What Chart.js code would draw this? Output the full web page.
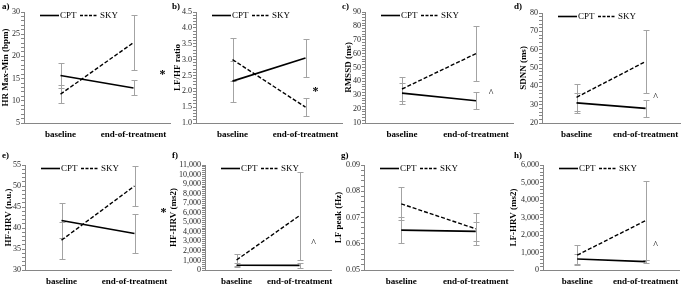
<!DOCTYPE html>
<html>
<head>
<meta charset="utf-8">
<script src="https://cdn.jsdelivr.net/npm/chart.js@4"></script>
<style>
  html, body { margin: 0; padding: 0; background: #fff; }
  #wrap { position: relative; width: 685px; height: 290px; overflow: hidden; }
  #wrap canvas { position: absolute; }
  .tag { position: absolute; font: bold 9px "Liberation Serif", serif; color: #000; }
</style>
</head>
<body>
<div id="wrap"></div>
<script>
const categories = ['baseline', 'end-of-treatment'];

// a) HR Max-Min (bpm)
const hrCPT = [15.7, 12.9];
const hrCPTErr = [2.9, 1.7];
const hrSKY = [11.5, 23.1];
const hrSKYErr = [2.0, 6.2];

// b) LF/HF ratio
const lfhfCPT = [2.32, 3.05];
const lfhfCPTErr = [0.65, 0.6];
const lfhfSKY = [3.0, 1.5];
const lfhfSKYErr = [0.67, 0.28];

// c) RMSSD (ms)
const rmssdCPT = [31.5, 26];
const rmssdCPTErr = [7.5, 6];
const rmssdSKY = [34.5, 60];
const rmssdSKYErr = [9, 20];

// d) SDNN (ms)
const sdnnCPT = [31, 28];
const sdnnCPTErr = [5.5, 4.7];
const sdnnSKY = [34, 53.5];
const sdnnSKYErr = [7.5, 17];

// e) HF-HRV (n.u.)
const hfnuCPT = [41.8, 38.7];
const hfnuCPTErr = [4.2, 4.6];
const hfnuSKY = [37.1, 50];
const hfnuSKYErr = [4.4, 4.7];

// f) HF-HRV (ms2)
const hfmsCPT = [500, 480];
const hfmsCPTErr = [200, 300];
const hfmsSKY = [1050, 5700];
const hfmsSKYErr = [600, 4600];

// g) LF peak (Hz)
const lfpCPT = [0.0652, 0.0647];
const lfpCPTErr = [0.0049, 0.0036];
const lfpSKY = [0.0752, 0.0657];
const lfpSKYErr = [0.0063, 0.006];

// h) LF-HRV (ms2)
const lfmsCPT = [630, 480];
const lfmsCPTErr = [280, 100];
const lfmsSKY = [850, 2820];
const lfmsSKYErr = [570, 2250];

const seriesNames = ['CPT', 'SKY'];

const serif = '"Liberation Serif", "Times New Roman", serif';
const axisGray = '#868686';
const barGray = '#a3a3a3';

const thousands = v => Math.round(v).toLocaleString('en-US');

// left/top = canvas corner; area = plot [left, top, right, bottom] in page pixels; tagAt = label corner
const panels = [
    { tag: 'a)', title: 'HR Max-Min (bpm)', cpt: hrCPT, cptErr: hrCPTErr, sky: hrSKY, skyErr: hrSKYErr,
      min: 5, max: 30, major: 5, minor: 1, fmt: v => String(v),
      mark: '*', markY: 16.3, markDx: 29, left: 0, top: 0, area: [24, 12, 170, 123], tagAt: [2, 1] },
    { tag: 'b)', title: 'LF/HF ratio', cpt: lfhfCPT, cptErr: lfhfCPTErr, sky: lfhfSKY, skyErr: lfhfSKYErr,
      min: 1, max: 4.5, major: 0.5, minor: 0.1, fmt: v => v.toFixed(1),
      mark: '*', markY: 2.04, markDx: 10, left: 172, top: 0, area: [196, 12, 342, 123], tagAt: [172, 1] },
    { tag: 'c)', title: 'RMSSD (ms)', cpt: rmssdCPT, cptErr: rmssdCPTErr, sky: rmssdSKY, skyErr: rmssdSKYErr,
      min: 10, max: 90, major: 10, minor: 2, fmt: v => String(v),
      mark: '^', markY: 33, markDx: 15, left: 343, top: 0, area: [365, 12, 513, 123], tagAt: [342, 1] },
    { tag: 'd)', title: 'SDNN (ms)', cpt: sdnnCPT, cptErr: sdnnCPTErr, sky: sdnnSKY, skyErr: sdnnSKYErr,
      min: 20, max: 80, major: 10, minor: 2, fmt: v => String(v),
      mark: '^', markY: 35, markDx: 10, left: 518, top: 0, area: [542, 13, 682, 123], tagAt: [514, 1] },
    { tag: 'e)', title: 'HF-HRV (n.u.)', cpt: hfnuCPT, cptErr: hfnuCPTErr, sky: hfnuSKY, skyErr: hfnuSKYErr,
      min: 30, max: 55, major: 5, minor: 1, fmt: v => String(v),
      mark: '*', markY: 44, markDx: 29, left: 3, top: 145, area: [25, 165, 171, 270], tagAt: [2, 150] },
    { tag: 'f)', title: 'HF-HRV (ms2)', cpt: hfmsCPT, cptErr: hfmsCPTErr, sky: hfmsSKY, skyErr: hfmsSKYErr,
      min: 0, max: 11000, major: 1000, minor: 200, fmt: thousands,
      mark: '^', markY: 3000, markDx: 14, left: 168, top: 145, area: [205, 165, 336, 270], tagAt: [172, 150] },
    { tag: 'g)', title: 'LF peak (Hz)', cpt: lfpCPT, cptErr: lfpCPTErr, sky: lfpSKY, skyErr: lfpSKYErr,
      min: 0.05, max: 0.09, major: 0.01, minor: 0.002, fmt: v => v.toFixed(2),
      mark: '', markY: 0, markDx: 0, left: 333, top: 145, area: [364, 165, 513, 270], tagAt: [341, 150] },
    { tag: 'h)', title: 'LF-HRV (ms2)', cpt: lfmsCPT, cptErr: lfmsCPTErr, sky: lfmsSKY, skyErr: lfmsSKYErr,
      min: 0, max: 6000, major: 1000, minor: 200, fmt: thousands,
      mark: '^', markY: 1500, markDx: 10, left: 508, top: 145, area: [543, 165, 682, 270], tagAt: [514, 150] }
];

// Vertical error bars drawn behind the lines
const errorBars = {
    id: 'errorBars',
    beforeDatasetsDraw(chart) {
        const ctx = chart.ctx;
        const y = chart.scales.y;
        ctx.save();
        ctx.strokeStyle = barGray;
        ctx.lineWidth = 1;
        chart.data.datasets.forEach((ds, di) => {
            const meta = chart.getDatasetMeta(di);
            ds.errors.forEach((e, i) => {
                const x = Math.round(meta.data[i].x) + 0.5;
                const top = Math.round(y.getPixelForValue(ds.data[i] + e)) + 0.5;
                const bot = Math.round(y.getPixelForValue(ds.data[i] - e)) + 0.5;
                ctx.beginPath();
                ctx.moveTo(x, top); ctx.lineTo(x, bot);
                ctx.moveTo(x - 3, top); ctx.lineTo(x + 3, top);
                ctx.moveTo(x - 3, bot); ctx.lineTo(x + 3, bot);
                ctx.stroke();
            });
        });
        ctx.restore();
    }
};

// Excel-like legend inside the plot, plus significance mark
const extras = {
    id: 'extras',
    afterDraw(chart, args, opts) {
        const ctx = chart.ctx;
        const area = chart.chartArea;
        const lx = area.left + 16;
        const ly = area.top + 3.5;
        ctx.save();
        ctx.strokeStyle = '#000';
        ctx.lineWidth = 1.6;
        ctx.font = '9px ' + serif;
        ctx.fillStyle = '#000';
        ctx.textBaseline = 'middle';
        ctx.beginPath();
        ctx.moveTo(lx, ly); ctx.lineTo(lx + 19, ly);
        ctx.stroke();
        ctx.fillText(seriesNames[0], lx + 20, ly + 0.5);
        ctx.lineWidth = 1.4;
        ctx.setLineDash([3, 1.5]);
        ctx.beginPath();
        ctx.moveTo(lx + 40, ly); ctx.lineTo(lx + 58, ly);
        ctx.stroke();
        ctx.setLineDash([]);
        ctx.fillText(seriesNames[1], lx + 60, ly + 0.5);

        if (opts.mark) {
            const mx = chart.scales.x.getPixelForValue(1) + opts.markDx;
            const my = chart.scales.y.getPixelForValue(opts.markY);
            ctx.textAlign = 'center';
            ctx.font = (opts.mark === '*' ? 'bold 12px ' : '10px ') + serif;
            ctx.fillText(opts.mark, mx, my + 2);
        }
        ctx.restore();
    }
};

const wrap = document.getElementById('wrap');

panels.forEach(p => {
    const [L, T, R, B] = p.area;
    const bx = p.left, by = p.top;
    const bw = R + 3 - bx, bh = 145;

    const canvas = document.createElement('canvas');
    canvas.width = bw;
    canvas.height = bh;
    canvas.style.left = bx + 'px';
    canvas.style.top = by + 'px';
    canvas.style.width = bw + 'px';
    canvas.style.height = bh + 'px';
    wrap.appendChild(canvas);

    const tag = document.createElement('div');
    tag.className = 'tag';
    tag.style.left = p.tagAt[0] + 'px';
    tag.style.top = p.tagAt[1] + 'px';
    tag.textContent = p.tag;
    wrap.appendChild(tag);

    new Chart(canvas.getContext('2d'), {
        type: 'line',
        data: {
            labels: categories,
            datasets: [
                {
                    label: seriesNames[0],
                    data: p.cpt,
                    errors: p.cptErr,
                    borderColor: '#000',
                    borderWidth: 1.6,
                    pointRadius: 0,
                    tension: 0
                },
                {
                    label: seriesNames[1],
                    data: p.sky,
                    errors: p.skyErr,
                    borderColor: '#000',
                    borderWidth: 1.4,
                    borderDash: [4, 2],
                    pointRadius: 0,
                    tension: 0
                }
            ]
        },
        options: {
            responsive: false,
            animation: false,
            devicePixelRatio: 1,
            layout: {
                padding: { left: 0, top: T - by, right: 3, bottom: 0 }
            },
            plugins: {
                legend: { display: false },
                tooltip: { enabled: false },
                extras: { mark: p.mark, markY: p.markY, markDx: p.markDx }
            },
            scales: {
                x: {
                    offset: true,
                    grid: { display: false, drawTicks: false },
                    border: { display: true, color: axisGray, width: 1 },
                    ticks: {
                        padding: 6,
                        color: '#000',
                        maxRotation: 0,
                        autoSkip: false,
                        font: { family: serif, size: 9, weight: 'bold' }
                    },
                    afterFit: scale => { scale.height = by + bh - B; }
                },
                y: {
                    min: p.min,
                    max: p.max,
                    grid: {
                        display: true,
                        drawOnChartArea: false,
                        drawTicks: true,
                        tickLength: 3,
                        color: axisGray
                    },
                    border: { display: true, color: axisGray, width: 1 },
                    ticks: {
                        stepSize: p.minor,
                        maxTicksLimit: 200,
                        autoSkip: false,
                        padding: 1,
                        color: '#262626',
                        font: { family: serif, size: 8 },
                        callback: v => {
                            const r = v / p.major;
                            return Math.abs(r - Math.round(r)) < 1e-6 ? p.fmt(v) : '';
                        }
                    },
                    title: {
                        display: true,
                        text: p.title,
                        color: '#000',
                        padding: { top: 0, bottom: 0 },
                        font: { family: serif, size: 9, weight: 'bold' }
                    },
                    afterFit: scale => { scale.width = L - bx; }
                }
            }
        },
        plugins: [errorBars, extras]
    });
});
</script>
</body>
</html>
